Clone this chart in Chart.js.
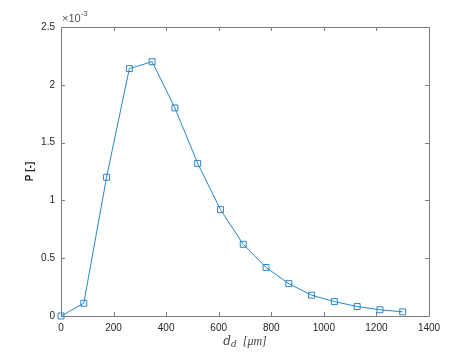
<!DOCTYPE html>
<html lang="en">
<head>
  <meta charset="UTF-8" />
  <title>P vs d_d</title>
  <script src="https://cdn.jsdelivr.net/npm/chart.js"></script>
  <style>
    html, body { margin: 0; padding: 0; background: #fff; }
    #wrap { width: 474px; height: 355px; }
  </style>
</head>
<body>
  <div id="wrap"><canvas id="pChart" width="474" height="355"></canvas></div>

  <script>
    // droplet diameter [um] and probability (in units of 1e-3)
    const diameters = [0, 86.7, 173.3, 260, 346.7, 433.3, 520, 606.7, 693.3, 780, 866.7, 953.3, 1040, 1126.7, 1213.3, 1300];
    const probValues = [0, 0.11, 1.20, 2.14, 2.20, 1.80, 1.32, 0.92, 0.62, 0.42, 0.28, 0.18, 0.125, 0.082, 0.054, 0.036];
    const xTicks = [0, 200, 400, 600, 800, 1000, 1200, 1400];
    const yTicks = [0, 0.5, 1, 1.5, 2, 2.5];

    const lineColor = "#2a86c8";
    const axisColor = "#7d7d7d";
    const textColor = "#262626";

    // box + inward ticks on all four sides, plus the labels MATLAB puts around the axes
    const matlabAxes = {
      id: "matlabAxes",
      beforeDatasetsDraw(chart) {
        const { ctx, chartArea: a, scales } = chart;
        const tl = 4;
        ctx.save();
        ctx.strokeStyle = axisColor;
        ctx.lineWidth = 1;
        ctx.beginPath();
        ctx.rect(Math.round(a.left) + 0.5, Math.round(a.top) + 0.5,
                 Math.round(a.right - a.left), Math.round(a.bottom - a.top));
        xTicks.forEach(v => {
          const px = Math.round(scales.x.getPixelForValue(v)) + 0.5;
          ctx.moveTo(px, a.bottom); ctx.lineTo(px, a.bottom - tl);
          ctx.moveTo(px, a.top); ctx.lineTo(px, a.top + tl);
        });
        yTicks.forEach(v => {
          const py = Math.round(scales.y.getPixelForValue(v)) + 0.5;
          ctx.moveTo(a.left, py); ctx.lineTo(a.left + tl, py);
          ctx.moveTo(a.right, py); ctx.lineTo(a.right - tl, py);
        });
        ctx.stroke();
        ctx.restore();
      },
      afterDraw(chart) {
        const { ctx, chartArea: a } = chart;
        ctx.save();
        ctx.textBaseline = "alphabetic";

        // exponent label
        ctx.font = "11px 'Liberation Sans', Arial, sans-serif";
        ctx.fillStyle = "#555";
        ctx.fillText("\u00d710", a.left + 1, a.top - 5);
        const w = ctx.measureText("\u00d710").width;
        ctx.font = "8px 'Liberation Sans', Arial, sans-serif";
        ctx.fillText("-3", a.left + 1 + w, a.top - 11);

        // y title
        ctx.fillStyle = textColor;
        ctx.font = "bold 10px 'Liberation Sans', Arial, sans-serif";
        ctx.translate(33, (a.top + a.bottom) / 2);
        ctx.rotate(-Math.PI / 2);
        ctx.textAlign = "center";
        ctx.fillText("P [-]", 0, 0);
        ctx.restore();

        // x title: d_d [um]
        ctx.save();
        ctx.fillStyle = "#444";
        const cx = (a.left + a.right) / 2;
        const by = 345;
        ctx.font = "italic 12px 'DejaVu Serif', 'Liberation Serif', serif";
        const p1 = "d";
        const p3 = "  [\u03bcm]";
        const w1 = ctx.measureText(p1).width;
        ctx.font = "italic 9px 'DejaVu Serif', 'Liberation Serif', serif";
        const w2 = ctx.measureText("d").width;
        ctx.font = "italic 12px 'Liberation Serif', serif";
        const w3 = ctx.measureText(p3).width;
        const x0 = cx - (w1 + w2 + w3) / 2;
        ctx.font = "italic 12px 'DejaVu Serif', 'Liberation Serif', serif";
        ctx.fillText(p1, x0, by);
        ctx.font = "italic 9px 'DejaVu Serif', 'Liberation Serif', serif";
        ctx.fillText("d", x0 + w1, by + 2);
        ctx.font = "italic 12px 'Liberation Serif', serif";
        ctx.fillText(p3, x0 + w1 + w2, by);
        ctx.restore();
      }
    };

    new Chart(document.getElementById("pChart"), {
      type: "line",
      data: {
        datasets: [{
          data: diameters.map((d, i) => ({ x: d, y: probValues[i] })),
          borderColor: lineColor,
          borderWidth: 1,
          backgroundColor: "transparent",
          pointStyle: "rect",
          pointRadius: 4.2,
          pointBorderWidth: 1,
          pointBorderColor: lineColor,
          pointBackgroundColor: "transparent",
          tension: 0,
          clip: false
        }]
      },
      options: {
        responsive: false,
        animation: false,
        layout: { padding: { top: 27, right: 45, left: 0, bottom: 0 } },
        plugins: { legend: { display: false }, tooltip: { enabled: false } },
        scales: {
          x: {
            type: "linear",
            min: 0, max: 1400,
            afterBuildTicks: s => { s.ticks = xTicks.map(v => ({ value: v })); },
            afterFit: s => { s.height = 39; },
            grid: { display: false, drawTicks: false, tickLength: 0 },
            border: { display: false },
            ticks: { color: textColor, padding: 6, maxRotation: 0,
                     callback: v => String(v),
                     font: { size: 10, family: "'Liberation Sans', Arial, sans-serif" } }
          },
          y: {
            min: 0, max: 2.5,
            afterBuildTicks: s => { s.ticks = yTicks.map(v => ({ value: v })); },
            afterFit: s => { s.width = 61; },
            grid: { display: false, drawTicks: false, tickLength: 0 },
            border: { display: false },
            ticks: { color: textColor, padding: 6,
                     callback: v => String(v),
                     font: { size: 10, family: "'Liberation Sans', Arial, sans-serif" } }
          }
        }
      },
      plugins: [matlabAxes]
    });
  </script>
</body>
</html>
